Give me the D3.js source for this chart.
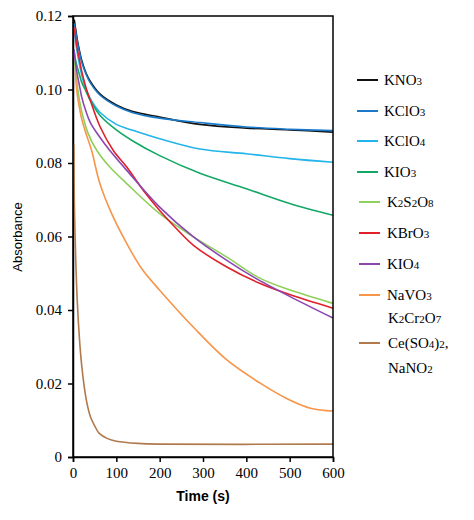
<!DOCTYPE html><html><head><meta charset="utf-8"><script src="https://cdn.jsdelivr.net/npm/d3@7"></script>
<style>body{margin:0;background:#fff}</style></head><body><svg id="c" width="474" height="520"></svg><script>
const names=["KNO3","KClO3","KClO4","KIO3","K2S2O8","KBrO3","KIO4","NaVO3","K2Cr2O7|Ce(SO4)2,|NaNO2"];
const colors=["#111111","#1a7ac9","#22b4ea","#13a866","#8fd05a","#e0202a","#8b46b0","#f7954a","#b07a4c"];
const tKNO3=[3,6,10,15,20,30,40,62,100,138,200,293,400,500,600];
const vKNO3=[0.119,0.1165,0.1135,0.1105,0.108,0.1045,0.1022,0.0988,0.0958,0.094,0.0925,0.0905,0.0895,0.089,0.0884];
const tKClO3=[3,6,10,15,20,30,40,62,100,138,200,293,400,500,600];
const vKClO3=[0.118,0.1158,0.113,0.110,0.1075,0.1042,0.1018,0.0985,0.0955,0.0937,0.0922,0.091,0.0898,0.0892,0.0888];
const tKClO4=[2,6,10,15,20,30,45,62,100,138,200,293,400,500,600];
const vKClO4=[0.117,0.113,0.110,0.1068,0.104,0.100,0.0965,0.0938,0.0905,0.0889,0.0866,0.0838,0.0825,0.0812,0.0802];
const tKIO3=[2,6,10,15,20,30,40,62,100,138,200,293,400,500,600];
const vKIO3=[0.111,0.108,0.106,0.104,0.102,0.0995,0.097,0.093,0.089,0.086,0.082,0.0772,0.073,0.069,0.0658];
const tK2S2O8=[2,6,10,15,20,35,55,85,124,200,278,355,432,500,600];
const vK2S2O8=[0.110,0.105,0.101,0.097,0.094,0.088,0.0834,0.0789,0.0744,0.0662,0.0599,0.0544,0.0486,0.0455,0.0418];
const tKBrO3=[2,6,10,15,20,30,40,62,93,124,162,200,239,278,355,432,500,600];
const vKBrO3=[0.117,0.114,0.111,0.108,0.105,0.1005,0.097,0.090,0.0834,0.0789,0.0726,0.0671,0.0621,0.0576,0.0517,0.0472,0.0442,0.0405];
const tKIO4=[2,6,10,15,20,30,40,62,85,124,200,278,355,416,500,600];
const vKIO4=[0.111,0.107,0.104,0.101,0.098,0.094,0.091,0.087,0.0834,0.078,0.068,0.0599,0.0535,0.049,0.0437,0.0378];
const tNaVO3=[5,10,15,20,30,43,62,90,124,160,200,278,355,432,500,550,600];
const vNaVO3=[0.105,0.0985,0.095,0.092,0.088,0.0834,0.0744,0.066,0.0581,0.051,0.0454,0.0353,0.0264,0.0201,0.0155,0.0132,0.0125];
const tMix=[2,3,6,10,15,20,30,40,50,60,80,100,150,200,600];
const vMix=[0.085,0.07,0.055,0.042,0.032,0.025,0.016,0.011,0.0085,0.0065,0.005,0.0043,0.0037,0.0035,0.0035];
const series=[[tKNO3,vKNO3],[tKClO3,vKClO3],[tKClO4,vKClO4],[tKIO3,vKIO3],[tK2S2O8,vK2S2O8],[tKBrO3,vKBrO3],[tKIO4,vKIO4],[tNaVO3,vNaVO3],[tMix,vMix]];
const xTicks=[0,100,200,300,400,500,600];
const yTicks=[0,0.02,0.04,0.06,0.08,0.10,0.12];
const svg=d3.select("#c");
const x=d3.scaleLinear().domain([0,600]).range([73,333]);
const y=d3.scaleLinear().domain([0,0.12]).range([457,16]);
const serif="'Liberation Serif','DejaVu Serif',serif";
const xa=svg.append("g").attr("transform","translate(0,457)").call(d3.axisBottom(x).tickValues(xTicks).tickSize(5).tickPadding(5).tickFormat(d3.format("d")));
const ya=svg.append("g").attr("transform","translate(73,0)").call(d3.axisLeft(y).tickValues(yTicks).tickSize(5).tickPadding(6).tickFormat(d=>d===0?"0":d3.format(".2f")(d)));
[xa,ya].forEach(a=>{a.selectAll("path,line").attr("stroke","#000").attr("stroke-width",1.5);a.selectAll("text").attr("font-family",serif).attr("font-size",15).attr("fill","#000");});
const line=d3.line().x(d=>x(d[0])).y(d=>y(d[1])).curve(d3.curveCatmullRom.alpha(0.5));
series.forEach((s,i)=>{const pts=s[0].map((t,j)=>[t,s[1][j]]);
 svg.append("path").attr("d",line(pts)).attr("fill","none").attr("stroke",colors[i]).attr("stroke-width",1.6);});
svg.append("rect").attr("x",73).attr("y",16).attr("width",260).attr("height",441).attr("fill","none").attr("stroke","#000").attr("stroke-width",1.5);
svg.append("text").attr("transform","translate(22,237) rotate(-90)").attr("text-anchor","middle").attr("font-family","'Liberation Sans',Arial,sans-serif").attr("font-size",13).text("Absorbance");
svg.append("text").attr("x",203).attr("y",501).attr("text-anchor","middle").attr("font-family","'Liberation Sans',Arial,sans-serif").attr("font-weight","bold").attr("font-size",14).text("Time (s)");
const ly=[80,111,141,172,202,233,264,295,343];
function addChem(str,xx,yy){const el=svg.append("text").attr("x",xx).attr("y",yy).attr("font-family",serif).attr("font-size",15).attr("fill","#000");
 str.split(/(\d+)/).forEach((p,k)=>{if(!p)return;if(k%2===1)el.append("tspan").attr("font-size",11).text(p);else el.append("tspan").text(p);});}
names.forEach((n,i)=>{const yy=ly[i];
 svg.append("line").attr("x1",357+(i>3?2:0)).attr("x2",378+(i>3?2:0)).attr("y1",yy).attr("y2",yy).attr("stroke",colors[i]).attr("stroke-width",2);
 const parts=n.split("|");
 if(parts.length===1)addChem(n,384+(i>3?3:0),yy+5);
 else parts.forEach((p,k)=>addChem(p,388,yy+5+(k-1)*25));});
</script></body></html>
